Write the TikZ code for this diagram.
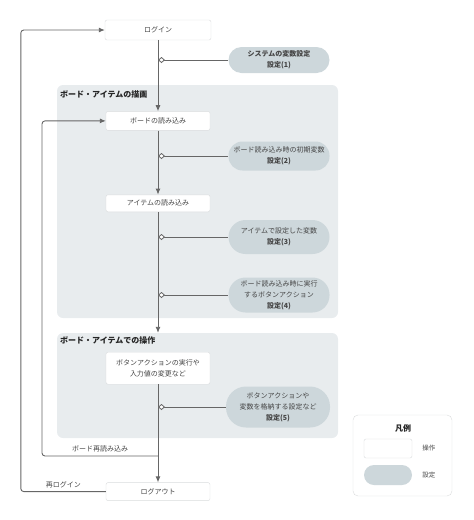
\documentclass[tikz,border=0pt]{standalone}
\usepackage{fontspec}
\setmainfont{Noto Sans CJK JP}
\usepackage{tikz}
\usetikzlibrary{positioning, arrows.meta, backgrounds, calc}
\definecolor{linegray}{HTML}{666666}
\definecolor{groupbg}{HTML}{E8ECEE}
\definecolor{setfill}{HTML}{CDD7DB}
\definecolor{boxline}{HTML}{DADCDD}
\definecolor{textgray}{HTML}{454545}
\tikzstyle{op}=[%
      rectangle, rounded corners=2pt, draw=boxline, fill=white, text=textgray,
      font=\fontsize{7}{11}\selectfont, minimum width=104pt, minimum height=19pt,
      inner sep=2pt, align=center
]
\tikzstyle{set}=[%
      rectangle, draw=none, fill=setfill, text=textgray,
      font=\fontsize{7}{11}\selectfont, minimum width=101pt,
      inner sep=0pt, align=center
]
\tikzstyle{grp}=[%
      rectangle, rounded corners=6pt, draw=none, fill=groupbg,
      minimum width=281pt, inner sep=0pt
]
\tikzstyle{grptitle}=[%
      anchor=west, text=black!85, font=\fontsize{8}{10}\selectfont\bfseries, inner sep=2pt
]
\tikzstyle{lbl}=[%
      text=textgray, font=\fontsize{7}{9}\selectfont, inner sep=2pt
]
\tikzstyle{flow}=[%
      draw=linegray, line width=0.9pt, -{Latex[length=6pt,width=5pt]}
]
\tikzstyle{ref}=[%
      draw=linegray, line width=0.8pt, {Diamond[open,fill=white,length=7pt,width=6pt,line width=0.8pt]}-
]

\begin{document}
\begin{tikzpicture}[x=1pt, y=1pt]
    \useasboundingbox (0,0) rectangle (474,-520);

    % groups
    \node[grp, minimum height=233pt] (grp1) at (197.5,-201.5) {};
    \node[grp, minimum height=105pt] (grp2) at (197.5,-385.5) {};
    \node[grptitle] (grp1title) at (58,-94)  {ボード・アイテムの描画};
    \node[grptitle] (grp2title) at (58,-340) {ボード・アイテムでの操作};

    % operations
    \node[op, minimum width=106pt, minimum height=20pt] (login) at (158,-30) {ログイン};
    \node[op]                       (board)  [below=71pt of login]  {ボードの読み込み};
    \node[op, minimum height=17pt]  (item)   [below=64pt of board]  {アイテムの読み込み};
    \node[op, minimum height=32pt]  (action) [below=140pt of item]  {ボタンアクションの実行や\\入力値の変更など};
    \node[op, minimum height=18pt]  (logout) [below=98pt of action] {ログアウト};

    % settings
    \node[set, rounded corners=13pt, minimum height=26pt] (s1) at (279,-60)
        {\bfseries システムの変数設定\\\bfseries 設定(1)};
    \node[set, rounded corners=14pt, minimum height=29pt] (s2) at (279,-156)
        {ボード読み込み時の初期変数\\\bfseries 設定(2)};
    \node[set, rounded corners=17pt, minimum height=34pt] (s3) at (279,-237)
        {アイテムで設定した変数\\\bfseries 設定(3)};
    \node[set, rounded corners=17pt, minimum height=35pt] (s4) at (279,-295)
        {ボード読み込み時に実行\\するボタンアクション\\\bfseries 設定(4)};
    \node[set, rounded corners=20pt, minimum height=41pt, minimum width=104pt] (s5) at (278,-407)
        {ボタンアクションや\\変数を格納する設定など\\\bfseries 設定(5)};

    % main flow
    \draw[flow] (login)  -- (board);
    \draw[flow] (board)  -- (item);
    \draw[flow] (item)   -- (item.south |- grp2.north);
    \draw[flow] (action) -- (logout);

    % loops back
    \coordinate (reloadpt) at (action.south |- 0,-456);
    \draw[flow, rounded corners=3pt] (reloadpt) -- ++(-116,0)
        node[lbl, midway, above=1pt] (reloadlbl) {ボード再読み込み} |- (board.west);
    \draw[flow, rounded corners=3pt] (logout.west) -- ++(-85,0)
        node[lbl, midway, above=1pt] (reloginlbl) {再ログイン} |- (login.west);

    % settings attached to the flow
    \draw[ref] (login.south |- s1.west) -- (s1.west);
    \draw[ref] (board.south |- s2.west) -- (s2.west);
    \draw[ref] (item.south |- s3.west)  -- (s3.west);
    \draw[ref] (item.south |- s4.west)  -- (s4.west);
    \draw[ref] (action.south |- s5.west) -- (s5.west);

    % legend
    \node[rectangle, rounded corners=5pt, draw=boxline, fill=white, minimum width=99pt, minimum height=81pt] (legend) at (402.5,-455.5) {};
    \node[font=\fontsize{8}{10}\selectfont\bfseries, text=black!85] (legtitle) at (403,-428) {凡例};
    \node[op, minimum width=48pt, minimum height=19pt] (legop) at (388,-448.5) {};
    \node[set, rounded corners=10pt, minimum width=48pt, minimum height=20pt] (legset) at (388,-475) {};
    \node[lbl, font=\fontsize{6.5}{8}\selectfont, right=8pt of legop]  (legoplbl)  {操作};
    \node[lbl, font=\fontsize{6.5}{8}\selectfont, right=8pt of legset] (legsetlbl) {設定};
\end{tikzpicture}
\end{document}
